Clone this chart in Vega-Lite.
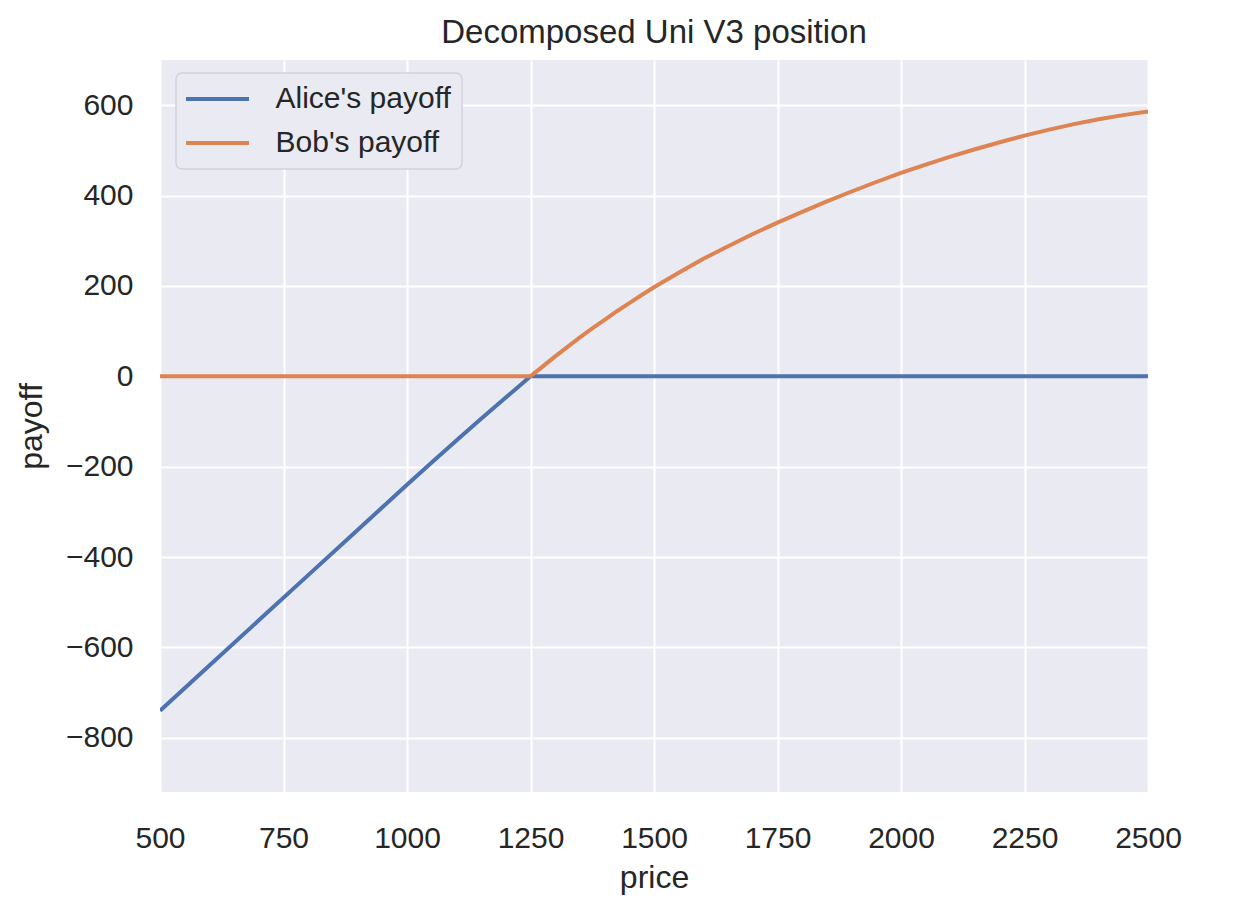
{
  "$schema": "https://vega.github.io/schema/vega-lite/v6.json",
  "autosize": {"type": "none"},
  "padding": {"left": 160, "top": 60, "right": 100, "bottom": 126},
  "width": 988,
  "height": 732,
  "background": "white",
  "title": {
    "text": "Decomposed Uni V3 position",
    "font": "Liberation Sans",
    "fontSize": 33,
    "fontWeight": "normal",
    "color": "#262626",
    "anchor": "middle",
    "offset": 10
  },
  "data": {
    "values": [
      {"series": "Alice's payoff", "price": 500, "payoff": -740},
      {"series": "Alice's payoff", "price": 600, "payoff": -640},
      {"series": "Alice's payoff", "price": 700, "payoff": -540},
      {"series": "Alice's payoff", "price": 800, "payoff": -440},
      {"series": "Alice's payoff", "price": 900, "payoff": -340},
      {"series": "Alice's payoff", "price": 1000, "payoff": -240},
      {"series": "Alice's payoff", "price": 1050, "payoff": -191},
      {"series": "Alice's payoff", "price": 1100, "payoff": -142},
      {"series": "Alice's payoff", "price": 1150, "payoff": -94},
      {"series": "Alice's payoff", "price": 1200, "payoff": -47},
      {"series": "Alice's payoff", "price": 1225, "payoff": -23.5},
      {"series": "Alice's payoff", "price": 1250, "payoff": 0},
      {"series": "Alice's payoff", "price": 1500, "payoff": 0},
      {"series": "Alice's payoff", "price": 2000, "payoff": 0},
      {"series": "Alice's payoff", "price": 2500, "payoff": 0},
      {"series": "Bob's payoff", "price": 500, "payoff": 0},
      {"series": "Bob's payoff", "price": 1000, "payoff": 0},
      {"series": "Bob's payoff", "price": 1250, "payoff": 0},
      {"series": "Bob's payoff", "price": 1275, "payoff": 22},
      {"series": "Bob's payoff", "price": 1300, "payoff": 44},
      {"series": "Bob's payoff", "price": 1325, "payoff": 65},
      {"series": "Bob's payoff", "price": 1350, "payoff": 86},
      {"series": "Bob's payoff", "price": 1375, "payoff": 106},
      {"series": "Bob's payoff", "price": 1400, "payoff": 125},
      {"series": "Bob's payoff", "price": 1425, "payoff": 144},
      {"series": "Bob's payoff", "price": 1450, "payoff": 162},
      {"series": "Bob's payoff", "price": 1475, "payoff": 180},
      {"series": "Bob's payoff", "price": 1500, "payoff": 197},
      {"series": "Bob's payoff", "price": 1550, "payoff": 229},
      {"series": "Bob's payoff", "price": 1600, "payoff": 260},
      {"series": "Bob's payoff", "price": 1650, "payoff": 288},
      {"series": "Bob's payoff", "price": 1700, "payoff": 315},
      {"series": "Bob's payoff", "price": 1750, "payoff": 340},
      {"series": "Bob's payoff", "price": 1800, "payoff": 364},
      {"series": "Bob's payoff", "price": 1850, "payoff": 387},
      {"series": "Bob's payoff", "price": 1900, "payoff": 409},
      {"series": "Bob's payoff", "price": 1950, "payoff": 430},
      {"series": "Bob's payoff", "price": 2000, "payoff": 450},
      {"series": "Bob's payoff", "price": 2050, "payoff": 468.5},
      {"series": "Bob's payoff", "price": 2100, "payoff": 486},
      {"series": "Bob's payoff", "price": 2150, "payoff": 502.5},
      {"series": "Bob's payoff", "price": 2200, "payoff": 518},
      {"series": "Bob's payoff", "price": 2250, "payoff": 532.5},
      {"series": "Bob's payoff", "price": 2300, "payoff": 546},
      {"series": "Bob's payoff", "price": 2350, "payoff": 558},
      {"series": "Bob's payoff", "price": 2400, "payoff": 569},
      {"series": "Bob's payoff", "price": 2450, "payoff": 578},
      {"series": "Bob's payoff", "price": 2500, "payoff": 586}
    ]
  },
  "mark": {"type": "line", "strokeWidth": 4, "clip": true},
  "encoding": {
    "x": {
      "field": "price",
      "type": "quantitative",
      "scale": {"domain": [500, 2500], "nice": false, "zero": false},
      "axis": {
        "title": "price",
        "format": "d",
        "values": [500, 750, 1000, 1250, 1500, 1750, 2000, 2250, 2500],
        "labelPadding": 31,
        "titlePadding": 9,
        "labelFlush": false,
        "labelOverlap": false
      }
    },
    "y": {
      "field": "payoff",
      "type": "quantitative",
      "scale": {"domain": [-920, 700], "nice": false, "zero": false},
      "axis": {
        "title": "payoff",
        "values": [-800, -600, -400, -200, 0, 200, 400, 600],
        "labelPadding": 27,
        "titlePadding": 17,
        "labelOverlap": false
      }
    },
    "color": {
      "field": "series",
      "type": "nominal",
      "scale": {"domain": ["Alice's payoff", "Bob's payoff"], "range": ["#4C72B0", "#DD8452"]},
      "legend": {
        "title": null,
        "orient": "none",
        "legendX": 16,
        "legendY": 13,
        "symbolType": "M-2.423,0H2.423",
        "symbolSize": 676,
        "symbolStrokeWidth": 4,
        "symbolOffset": 15.5,
        "labelOffset": 43,
        "labelFontSize": 30,
        "labelFont": "Liberation Sans",
        "labelColor": "#262626",
        "labelLimit": 400,
        "padding": 11,
        "rowPadding": 14,
        "fillColor": "#EAEAF2",
        "strokeColor": "#D2D2D8",
        "cornerRadius": 6,
        "encode": {
          "legend": {"update": {"strokeWidth": {"value": 1.5}}}
        }
      }
    }
  },
  "config": {
    "view": {"fill": "#EAEAF2", "stroke": null},
    "axis": {
      "domain": false,
      "ticks": false,
      "tickSize": 0,
      "grid": true,
      "gridColor": "#FFFFFF",
      "gridWidth": 2,
      "gridOpacity": 1,
      "labelFont": "Liberation Sans",
      "labelFontSize": 30,
      "labelColor": "#262626",
      "titleFont": "Liberation Sans",
      "titleFontSize": 32,
      "titleFontWeight": "normal",
      "titleColor": "#262626"
    }
  }
}
